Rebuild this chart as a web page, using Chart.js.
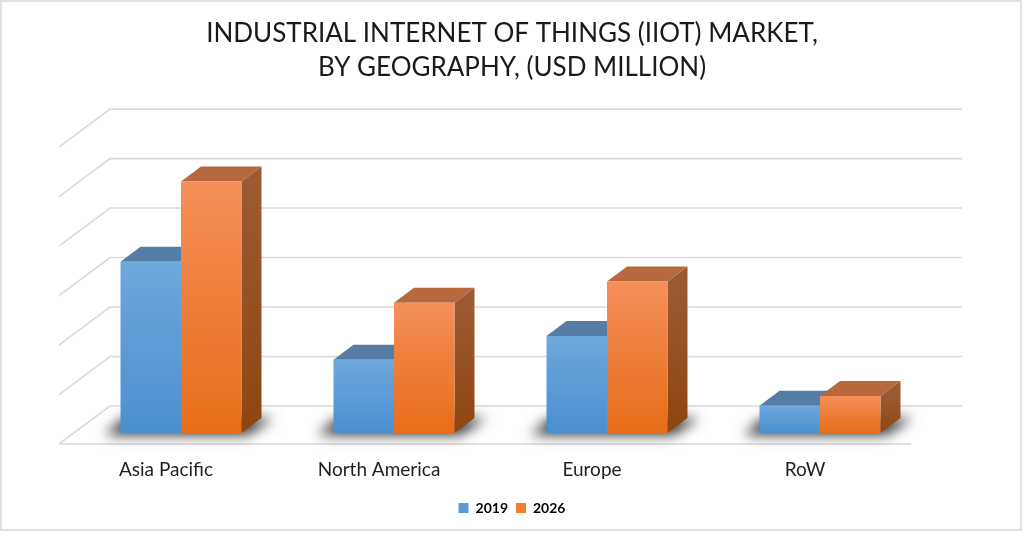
<!DOCTYPE html>
<html>
<head>
<meta charset="utf-8">
<title>IIoT market by geography</title>
<script src="https://cdn.jsdelivr.net/npm/chart.js@4"></script>
<style>
  html, body { margin: 0; padding: 0; background: #fff; }
  #wrap { position: relative; width: 1024px; height: 533px; }
  #chart { display: block; }
  #frame { position: absolute; left: 0; top: 0; width: 1018px; height: 527px; border: 2px solid #e2e2e2; pointer-events: none; }
</style>
</head>
<body>
<div id="wrap">
  <canvas id="chart" width="1024" height="533"></canvas>
  <div id="frame"></div>
</div>
<script>
/* data (no value axis labels in the original, units = gridline steps) */
const categories = ['Asia Pacific', 'North America', 'Europe', 'RoW'];
const values2019 = [3.46, 1.48, 1.96, 0.55];
const values2026 = [5.08, 2.63, 3.06, 0.75];
const gridTicks = [0, 1, 2, 3, 4, 5, 6];

/* fake 3D settings, in pixels */
const BAR_DX = 20, BAR_DY = -15;      // depth of a bar
const BACK_DY = -27;                  // bar front plane -> back wall
const FRONT_DY = 11;                  // bar front plane -> floor edge
const WALL_DX = 51;                   // floor edge -> back wall

function poly(ctx, pts, fill) {
    ctx.beginPath();
    pts.forEach((p, i) => i ? ctx.lineTo(p[0], p[1]) : ctx.moveTo(p[0], p[1]));
    ctx.closePath();
    ctx.fillStyle = fill;
    ctx.fill();
}

function vGrad(ctx, y0, y1, c0, c1) {
    const g = ctx.createLinearGradient(0, y0, 0, y1);
    g.addColorStop(0, c0);
    g.addColorStop(1, c1);
    return g;
}

/* front faces go through the library, gradient per bar */
function faceColor(top, bottom) {
    return c => {
        const y = c.chart.scales.y;
        if (c.raw === undefined || !y.ctx) return bottom;
        return vGrad(c.chart.ctx, y.getPixelForValue(c.raw), y.getPixelForValue(0), top, bottom);
    };
}

const box3d = {
    id: 'box3d',
    beforeDatasetsDraw(chart) {
        const { ctx, scales: { x, y } } = chart;
        const x0 = x.left - 15.5, x1 = x.right - 15.5;  // floor edge 59..911
        ctx.save();

        /* gridlines: side wall + back wall */
        ctx.strokeStyle = '#d9d9d9';
        ctx.lineWidth = 1.6;
        gridTicks.forEach(t => {
            const py = y.getPixelForValue(t);
            ctx.beginPath();
            ctx.moveTo(x0, py + FRONT_DY);
            ctx.lineTo(x0 + WALL_DX, py + BACK_DY);
            ctx.lineTo(x1 + WALL_DX, py + BACK_DY);
            ctx.stroke();
        });
        /* floor front edge */
        const yb = y.getPixelForValue(0);
        ctx.beginPath();
        ctx.moveTo(x0, yb + FRONT_DY);
        ctx.lineTo(x1, yb + FRONT_DY);
        ctx.stroke();

        const m0 = chart.getDatasetMeta(0).data, m1 = chart.getDatasetMeta(1).data;

        /* soft floor shadow behind each pair: only the blur lands on the canvas */
        m0.forEach((b, i) => {
            const l = b.x - b.width / 2, r = m1[i].x + m1[i].width / 2;
            ctx.save();
            ctx.shadowColor = 'rgba(0,0,0,0.8)';
            ctx.shadowBlur = 13;
            ctx.shadowOffsetX = 2000;
            poly(ctx, [[l - 2016, yb + 2], [r - 1994, yb + 2], [r - 1968, yb - 15], [l - 1996, yb - 15]], '#000');
            ctx.restore();
        });

        /* top and side of each bar, the front face is drawn over them */
        [[m0, '#557da6', '#4f7ba8', '#3f6f9f'], [m1, '#b7683c', '#9c5a32', '#8e4510']].forEach(([bars, topC, s0, s1]) => {
            bars.forEach(b => {
                const l = b.x - b.width / 2, r = b.x + b.width / 2;
                poly(ctx, [[r, b.y], [r + BAR_DX, b.y + BAR_DY], [r + BAR_DX, yb + BAR_DY], [r, yb]], vGrad(ctx, b.y, yb, s0, s1));
                poly(ctx, [[l, b.y], [l + BAR_DX, b.y + BAR_DY], [r + BAR_DX, b.y + BAR_DY], [r, b.y]], topC);
            });
        });
        ctx.restore();
    },
};

new Chart(document.getElementById('chart'), {
    type: 'bar',
    data: {
        labels: categories,
        datasets: [
            { label: '2019', data: values2019, backgroundColor: faceColor('#6fa8dd', '#4a8fcf'), borderWidth: 0 },
            { label: '2026', data: values2026, backgroundColor: faceColor('#f58f5a', '#e76d18'), borderWidth: 0 },
        ],
    },
    plugins: [box3d],
    options: {
        responsive: false,
        animation: false,
        categoryPercentage: 0.568,
        barPercentage: 1,
        layout: { padding: { left: 0, right: 0, top: 0, bottom: 8 } },
        plugins: {
            title: {
                display: true,
                text: ['INDUSTRIAL INTERNET OF THINGS (IIOT) MARKET,', 'BY GEOGRAPHY, (USD MILLION)'],
                color: '#1a1a1a',
                font: { family: 'Lato', size: 26, weight: 'normal', lineHeight: 1.3 },
                padding: { top: 16.5, bottom: 52 },
            },
            legend: {
                position: 'bottom',
                labels: {
                    color: '#1f1f1f',
                    font: { family: 'Lato', size: 14, weight: 'bold' },
                    boxWidth: 10,
                    boxHeight: 10,
                    padding: 8,
                    generateLabels: () => [
                        { text: '2019', fillStyle: '#5b9bd5', strokeStyle: '#5b9bd5', lineWidth: 0, datasetIndex: 0 },
                        { text: '2026', fillStyle: '#f47c2a', strokeStyle: '#f47c2a', lineWidth: 0, datasetIndex: 1 },
                    ],
                },
            },
            tooltip: { enabled: false },
        },
        scales: {
            x: {
                grid: { display: false },
                border: { display: false },
                ticks: { color: '#1f1f1f', font: { family: 'Lato', size: 19 }, padding: 17, labelOffset: -15 },
                afterFit: s => { s.height = 60; },
            },
            y: {
                min: 0,
                max: 6,
                grid: { display: false },
                border: { display: false },
                ticks: { display: false, stepSize: 1 },
                afterFit: s => { s.width = 74.5; },
            },
            /* empty right-hand box, keeps the plot off-centre while title and legend stay centred */
            yRight: {
                position: 'right',
                min: 0,
                max: 1,
                grid: { display: false },
                border: { display: false },
                ticks: { display: false },
                afterFit: s => { s.width = 97.5; },
            },
        },
    },
});
</script>
</body>
</html>
